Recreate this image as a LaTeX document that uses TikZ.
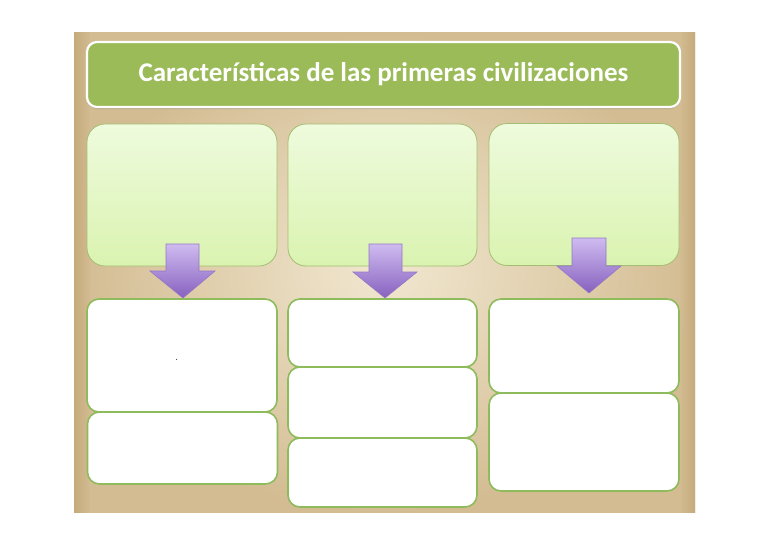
\documentclass[tikz,border=0pt]{standalone}
\usepackage{fontspec}
\setmainfont{Carlito}
\usetikzlibrary{shadows}
\definecolor{parchIn}{HTML}{F1E7D0}
\definecolor{parchOut}{HTML}{D3BC92}
\definecolor{parchEdge}{HTML}{C2A676}
\definecolor{titleGreen}{HTML}{9BBB59}
\definecolor{boxTop}{HTML}{EEFBDD}
\definecolor{boxBot}{HTML}{DAF3B0}
\definecolor{boxLine}{HTML}{A3BE72}
\definecolor{whiteLine}{HTML}{8EBB5C}
\definecolor{arrowTop}{HTML}{CFBBF0}
\definecolor{arrowBot}{HTML}{8761BF}
\definecolor{arrowLine}{HTML}{9477C8}
\begin{document}
\begin{tikzpicture}[x=1pt,y=-1pt,
  titlebox/.style={draw=white, line width=2.2pt, fill=titleGreen, rounded corners=10pt,
    inner sep=0pt, text=white, font=\fontsize{27}{32}\selectfont\bfseries,
    drop shadow={opacity=0.35, shadow xshift=0pt, shadow yshift=-2pt}},
  greenbox/.style={draw=boxLine, line width=0.8pt, top color=boxTop, bottom color=boxBot,
    rounded corners=18pt, inner sep=0pt, minimum width=190pt, minimum height=142pt},
  whitebox/.style={draw=whiteLine, line width=1.6pt, fill=white, rounded corners=12pt,
    inner sep=0pt, minimum width=190pt},
  downarrow/.style={draw=arrowLine, line width=0.6pt, top color=arrowTop, bottom color=arrowBot}]
\useasboundingbox (0,0) rectangle (768,543);
\fill[white] (0,0) rectangle (768,543);
\shade[inner color=parchIn, outer color=parchOut] (74,33) rectangle (695,512);
\shade[left color=parchEdge, right color=parchOut, opacity=0.8] (74,33) rectangle (90,512);
\shade[left color=parchOut, right color=parchEdge, opacity=0.8] (680,33) rectangle (695,512);

\node[titlebox, minimum width=593pt, minimum height=65pt] (title) at (383.5,74.5)
  {Características de las primeras civilizaciones};

\node[greenbox] (g1) at (182,195) {};
\node[greenbox, minimum width=189pt] (g2) at (382.5,195) {};
\node[greenbox] (g3) at (584,194.5) {};

\node[whitebox, minimum height=113pt] (a1) at (182,355.5) {};
\node[whitebox, minimum height=72pt] (b1) at (182.5,448) {};
\node[whitebox, minimum width=189pt, minimum height=68pt] (a2) at (382.5,333) {};
\node[whitebox, minimum width=189pt, minimum height=71pt] (b2) at (382.5,402.5) {};
\node[whitebox, minimum width=189pt, minimum height=69pt] (c2) at (382.5,472.5) {};
\node[whitebox, minimum height=94pt] (a3) at (584,346) {};
\node[whitebox, minimum height=98pt] (b3) at (584,442) {};

\node[circle, fill=black!70, inner sep=0.45pt] (dot) at (176.5,359.5) {};

\shade[downarrow] (166,244) -- (199,244) -- (199,271) -- (215,271) -- (183,298) -- (150,271) -- (166,271) -- cycle;
\shade[downarrow] (369,244) -- (402,244) -- (402,272) -- (417,272) -- (385,298) -- (353,272) -- (369,272) -- cycle;
\shade[downarrow] (572,238) -- (606,238) -- (606,266) -- (621,266) -- (589,293) -- (557,266) -- (572,266) -- cycle;
\end{tikzpicture}
\end{document}
